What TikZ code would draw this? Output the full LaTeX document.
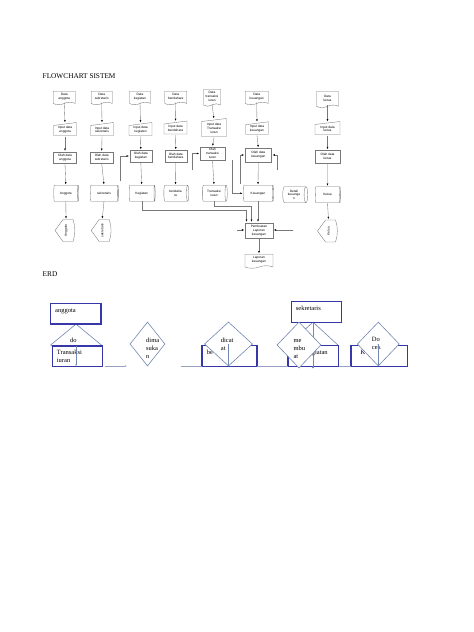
\documentclass[tikz,border=0pt]{standalone}
\usepackage{fontspec}
\setmainfont{Liberation Serif}
\newfontfamily\fcsans{Liberation Sans}
\usetikzlibrary{shapes.geometric,shapes.symbols,arrows.meta,calc}
\definecolor{fcgray}{RGB}{160,160,160}
\definecolor{fcline}{RGB}{120,120,120}
\definecolor{entblue}{RGB}{55,55,170}
\definecolor{relblue}{RGB}{115,135,180}
\definecolor{linkblue}{RGB}{150,160,195}
\pgfdeclarelayer{bg}
\pgfsetlayers{bg,main}
\tikzset{
 fctext/.style={font=\fcsans\fontsize{3.2}{3.7}\selectfont, align=center, inner sep=0.3pt},
 fcshape/.style={draw=fcline, fill=white, line width=0.35pt},
 docbox/.style={fctext, fcshape, tape, tape bend top=none, tape bend bottom=in and out, tape bend height=2.5pt},
 procbox/.style={fctext, fcshape, rectangle},
 storebox/.style={fctext, fcshape, cylinder, shape border rotate=0, shape aspect=0.35},
 dispbox/.style={fctext, rotate=90, minimum width=22pt, minimum height=19pt},
 fcarrow/.style={draw=fcline, line width=0.35pt, -{Latex[length=2.2pt,width=1.8pt,black]}, shorten >=0.8pt},
 fcwire/.style={draw=fcgray, line width=0.3pt},
 erdtext/.style={font=\fontsize{6.5}{8}\selectfont, align=left, inner sep=0pt, anchor=base west},
 entbox/.style={draw=entblue, fill=white, line width=0.9pt, inner sep=0pt},
 entedge/.style={draw=entblue, line width=1.8pt},
 relbox/.style={diamond, draw=relblue, fill=white, line width=0.6pt, inner sep=0pt},
 erdarrow/.style={draw=relblue, line width=0.45pt, -{Latex[length=2pt,width=1.6pt]}},
 erdlink/.style={draw=linkblue, line width=0.5pt},
}
% manual input: name, x, y, w, h, text
\newcommand{\mininput}[6]{%
 \filldraw[fcshape] (#2-#4/2,#3+#5/2) -- (#2+#4/2,#3+#5/2) -- (#2+#4/2,#3-#5/2) -- (#2-#4/2,#3-#5/2+3) -- cycle;
 \node[fctext, minimum width=#4pt, minimum height=#5pt] (#1) at (#2,#3+0.8) {#6};}
% display: name, x, y, text
\newcommand{\dispout}[4]{%
 \filldraw[fcshape] (#2-10,#3) -- (#2-2,#3-11) -- (#2+8,#3-11) .. controls (#2+10.5,#3-4) and (#2+10.5,#3+4) .. (#2+8,#3+11) -- (#2-2,#3+11) -- cycle;
 \node[dispbox] (#1) at (#2+1,#3) {#4};}
% stored data: name, x, y, w, text
\newcommand{\stored}[5]{%
 \node[storebox, minimum height=#4pt, minimum width=16pt] (#1) at (#2,#3) {#5};}
\begin{document}
\begin{tikzpicture}[x=1pt,y=-1pt]
\useasboundingbox (0,0) rectangle (474,632);
\fill[white] (0,0) rectangle (474,632);

\node[anchor=base west, inner sep=0pt, font=\fontsize{7.3}{8}\selectfont] (title1) at (42.5,78) {FLOWCHART SISTEM};
\node[anchor=base west, inner sep=0pt, font=\fontsize{7.3}{8}\selectfont] (title2) at (42.5,276) {ERD};

% ---- documents
\node[docbox, minimum width=22pt, minimum height=13.5pt] (dA) at (64.2,96.7) {Data\\anggota};
\node[docbox, minimum width=21pt, minimum height=13.5pt] (dB) at (101.7,96.7) {Data\\sekretaris};
\node[docbox, minimum width=21pt, minimum height=13.5pt] (dC) at (140,96.7) {Data\\kegiatan};
\node[docbox, minimum width=22pt, minimum height=13.5pt] (dD) at (175.8,96.7) {Data\\bendahara};
\node[docbox, minimum width=17pt, minimum height=17pt] (dE) at (212,96.5) {Data\\transaksi\\iuran};
\node[docbox, minimum width=23pt, minimum height=13.5pt] (dF) at (256.7,96.7) {Data\\keuangan};
\node[docbox, minimum width=22pt, minimum height=16pt] (dG) at (327.5,98.3) {Data\\ketua};

% ---- manual inputs
\mininput{iA}{65}{129}{23}{13}{Input data\\anggota}
\mininput{iB}{102}{129}{23}{13}{Input data\\sekretaris}
\mininput{iC}{140.5}{129}{23}{13}{Input data\\kegiatan}
\mininput{iD}{175.5}{127.5}{23}{13}{Input data\\bendahara}
\mininput{iE}{214}{127.5}{25}{18}{Input data\\Transaksi\\iuran}
\mininput{iF}{257}{128}{23}{12.5}{Input data\\keuangan}
\mininput{iG}{327.5}{128}{25}{13}{Input data\\ketua}

% ---- processes
\node[procbox, minimum width=23pt, minimum height=11.5pt] (oA) at (65,157.5) {Olah data\\anggota};
\node[procbox, minimum width=23pt, minimum height=11.5pt] (oB) at (101.7,157.5) {Olah data\\sekretaris};
\node[procbox, minimum width=22pt, minimum height=11.5pt] (oC) at (140.8,156) {Olah data\\kegiatan};
\node[procbox, minimum width=22pt, minimum height=11.5pt] (oD) at (175.8,156) {Olah data\\bendahara};
\node[procbox, minimum width=25pt, minimum height=13.3pt] (oE) at (212.5,153.5) {Olah\\transaksi\\iuran};
\node[procbox, minimum width=26.7pt, minimum height=13.7pt] (oF) at (258.3,155) {Olah data\\keuangan};
\node[procbox, minimum width=25pt, minimum height=13.3pt] (oG) at (327.5,156.7) {Olah data\\ketua};

% ---- stored data
\stored{cA}{65.8}{193.3}{25}{Anggota}
\stored{cB}{104}{193.3}{28}{sekretaris}
\stored{cC}{141.7}{193.3}{26}{Kegiatan}
\stored{cD}{175.5}{193.3}{25}{bendaha\\ra}
\stored{cE}{214}{193.3}{25}{Transaksi\\iuran}
\stored{cF}{258}{193.3}{30}{Keuangan}
\stored{cH}{294}{194.7}{25}{Detail\\keuanga\\n}
\stored{cG}{327.5}{194.7}{25}{Ketua}

% ---- displays
\dispout{pA}{65}{230.5}{Anggota}
\dispout{pB}{101.2}{230.5}{sekretaris}
\dispout{pG}{327.5}{231}{Ketua}

% ---- report
\node[procbox, minimum width=27.7pt, minimum height=15.6pt] (pemb) at (259,230.5) {Pembuatan\\Laporan\\keuangan};
\node[docbox, minimum width=28pt, minimum height=14pt] (lap) at (259,260) {Laporan\\keuangan};

% ---- column arrows
\foreach \c in {A,B,C,D,E,F,G}{
  \draw[fcarrow] (d\c.south) -- (i\c.north);
  \draw[fcarrow] (i\c.south) -- (o\c.north);
  \draw[fcarrow] (o\c.south) -- (c\c.north);
}
\draw[fcarrow] (cA.south) -- (pA.east);
\draw[fcarrow] (cB.south) -- (pB.east);
\draw[fcarrow] (cG.south) -- (pG.east);
\draw[fcarrow] (cF.south) -- (cF.south |- pemb.north);
\draw[fcarrow] (pemb.south) -- (lap.north);

% ---- wiring
\coordinate (w1) at (47,204);
\coordinate (w2) at (47,170);
\coordinate (w3) at (277,170);
\coordinate (w4) at (277,146);
\coordinate (w5) at (293,146);
\coordinate (w6) at (293,230);
\coordinate (w7) at (86.7,204);
\coordinate (w8) at (86.7,181);
\coordinate (w9) at (120,181);
\coordinate (w11) at (237,204);
\coordinate (w12) at (237,230);
\coordinate (w13) at (246.5,210);
\coordinate (w14) at (251.5,206.5);
\coordinate (w15) at (160,150);
\coordinate (w16) at (160,170);
\coordinate (w17) at (192,170);
\coordinate (w18) at (232,160);
\coordinate (w19) at (240,184);
\begin{pgfonlayer}{bg}
\draw[fcwire] (w1) -- (w2) -- (w3) -- (w4) -- (w5) -- (w6);
\draw[fcwire] (w9) -- (w8) -- (w7) -- (w11) -- (w12);
\draw[fcwire] (w15) -- (w16);
\end{pgfonlayer}
\draw[fcarrow] (w6) -- (pemb.east |- w6);
\draw[fcarrow] (w12) -- (pemb.west |- w12);
\draw[fcarrow] (w9) |- (oC.west);
\draw[fcarrow] (w17) |- (oE.west);
\draw[fcarrow] (w18) |- (cF.west);
\draw[fcarrow] (w19) |- (oF.west);
\draw[fcarrow] (w3) |- (oF.east);
\draw[fcarrow] (cC.south) |- (w13) -- (w13 |- pemb.north);
\draw[fcarrow] (cE.south) |- (w14) -- (w14 |- pemb.north);

% ================= ERD =================
\coordinate (l1) at (104.7,366);
\coordinate (l2) at (127,366);
\coordinate (l3) at (180.7,366);
\coordinate (l4) at (351,366);
\draw[erdlink, -{Latex[length=2pt,width=1.6pt]}] (l1) -- (l2);
\draw[erdlink] (l3) -- (l4);

% group 1
\node[relbox, minimum width=51pt, minimum height=42pt] (do) at (76,345) {};
\node[entbox, minimum width=50pt, minimum height=20pt] (eAng) at (75.7,313.3) {};
\node[entbox, minimum width=50pt, minimum height=20pt] (eTrans) at (77.3,356) {};
\draw[entedge] (eTrans.north west) -- (eTrans.north east);
\draw[entedge] (eAng.north east) -- (eAng.south east) -- (eAng.south west);
\node[erdtext] (tAng) at (55,312) {anggota};
\node[erdtext] (tDo) at (70,342) {do};
\node[erdtext] (tTrans) at (56.7,362) {Transaksi\\iuran};
\draw[erdarrow] (do.center |- eTrans.north) -- (do.south);

% group 2
\node[relbox, minimum width=35pt, minimum height=44pt] (dima) at (147.5,344) {};
\node[erdtext] (tDima) at (146,358) {dima\\suka\\n};

% group 3
\node[entbox, minimum width=54.7pt, minimum height=21pt] (eBend) at (229.3,355.5) {};
\draw[entedge] (eBend.north west) -- (eBend.south west);
\draw[entedge] (eBend.north east) -- (eBend.south east);
\node[erdtext] (tBend) at (206.7,354.3) {be};
\node[relbox, minimum width=48pt, minimum height=44pt] (dicat) at (228.5,344) {};
\node[erdtext] (tDicat) at (220.7,350) {dicat\\at};
\draw[erdarrow] (dicat.center) -- (dicat.south);

% group 4
\node[relbox, minimum width=50pt, minimum height=46pt] (rBack) at (313,345) {};
\node[entbox, minimum width=50pt, minimum height=21pt] (eKeg) at (313.3,355.5) {};
\draw[entedge] (eKeg.north west) -- (eKeg.south west);
\node[erdtext] (tKeg) at (305.5,354.3) {kegiatan};
\draw[erdarrow] (rBack.north) -- (rBack.south);
\node[entbox, minimum width=50.7pt, minimum height=20.6pt] (eSek) at (316.3,312) {};
\node[erdtext] (tSek) at (295.7,310) {sekretaris};
\node[relbox, minimum width=44pt, minimum height=46pt] (membuat) at (299,345) {};
\node[erdtext] (tMemb) at (293.3,358) {me\\mbu\\at};

% group 5
\node[entbox, minimum width=56.7pt, minimum height=21pt] (eKetua) at (379.3,355.5) {};
\draw[entedge] (eKetua.north west) -- (eKetua.south west);
\node[erdtext] (tKetua) at (360.5,354.3) {K};
\node[relbox, minimum width=42pt, minimum height=44pt] (docek) at (378.3,344) {};
\node[erdtext] (tDocek) at (371.7,349.5) {Do\\cek};
\draw[erdarrow] (docek.center) -- (docek.south);
\end{tikzpicture}
\end{document}
